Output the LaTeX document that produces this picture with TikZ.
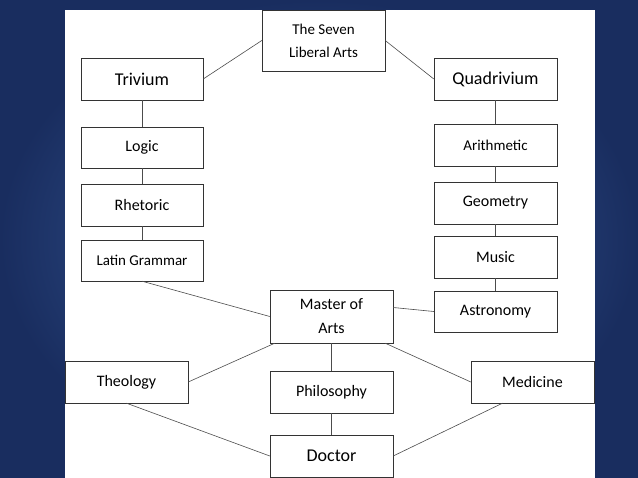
\documentclass[tikz,border=0pt]{standalone}
\usepackage{fontspec}
\setmainfont{Carlito}
\begin{document}
\begin{tikzpicture}[x=1pt,y=-1pt]
\tikzset{box/.style={draw=black!80, fill=white, rectangle, inner sep=0pt, font=\fontsize{16}{18}\selectfont, align=center},
  big/.style={font=\fontsize{18}{20}\selectfont},
  ln/.style={draw=black!70, line width=0.6pt}}
\shade[inner color={rgb,255:red,62;green,100;blue,165}, outer color={rgb,255:red,25;green,45;blue,95}] (0,0) rectangle (638,478);
\useasboundingbox (0,0) rectangle (638,478);
\fill[white] (65,10) rectangle (595,478);
% boxes: name, x1, x2, y1, y2
\newcommand\bx[6][]{\node[box, minimum width={#4-#3}, minimum height={#6-#5}, #1] (#2) at ({(#3+#4)/2},{(#5+#6)/2})}
\bx[font=\fontsize{15}{17}\selectfont]{sev}{262}{385}{10}{71} {The Seven\\[6pt]Liberal Arts};
\bx[big]{tri}{81}{203}{58}{100} {Trivium};
\bx[big]{qua}{434}{557}{58}{100} {Quadrivium};
\bx{log}{81}{203}{127}{168} {Logic};
\bx{rhe}{81}{203}{184}{226} {Rhetoric};
\bx[font=\fontsize{15}{17}\selectfont]{lat}{81}{203}{240}{281} {Latin Grammar};
\bx[font=\fontsize{15}{17}\selectfont]{ari}{434}{557}{124}{166} {Arithmetic};
\bx{geo}{434}{557}{182}{224} {Geometry};
\bx{mus}{434}{557}{236}{278} {Music};
\bx{ast}{434}{557}{291}{332} {Astronomy};
\bx{ma}{270}{393}{290}{343} {Master of\\[6pt]Arts};
\bx{the}{65}{188}{361}{403} {Theology};
\bx{phi}{270}{393}{371}{413} {Philosophy};
\bx{med}{471}{594}{361}{403} {Medicine};
\bx[big]{doc}{270}{393}{435}{477} {Doctor};
% connectors
\path[ln] (sev.west) -- (tri.east);
\path[ln] (sev.east) -- (qua.west);
\path[ln] (tri) -- (log);
\path[ln] (log) -- (rhe);
\path[ln] (rhe) -- (lat);
\path[ln] (qua) -- (ari);
\path[ln] (ari) -- (geo);
\path[ln] (geo) -- (mus);
\path[ln] (mus) -- (ast);
\path[ln] (lat.south) -- (ma.west);
\path[ln] (ast.west) -- ([yshift=9pt]ma.east);
\path[ln] ([xshift=5pt]ma.south west) -- (the.east);
\path[ln] ([xshift=-8pt]ma.south east) -- (med.west);
\path[ln] (ma) -- (phi);
\path[ln] (phi) -- (doc);
\path[ln] (the.south) -- (doc.west);
\path[ln] ([xshift=-30pt]med.south) -- (doc.east);
\end{tikzpicture}
\end{document}
